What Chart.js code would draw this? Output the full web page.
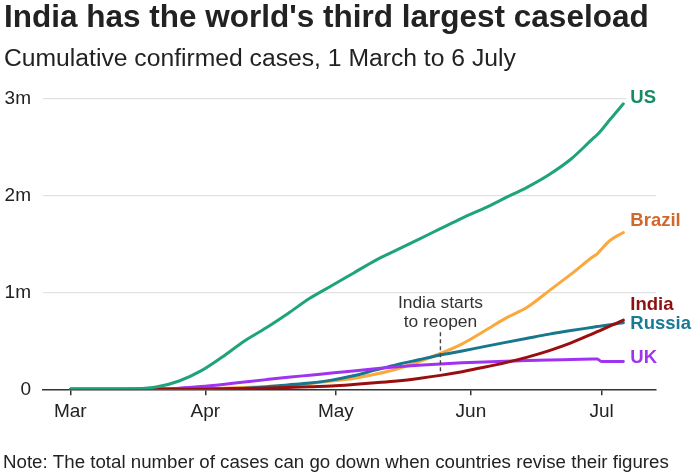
<!DOCTYPE html>
<html>
<head>
<meta charset="utf-8">
<script src="https://cdn.jsdelivr.net/npm/chart.js@4.4.1/dist/chart.umd.min.js"></script>
<style>
  html, body { margin: 0; padding: 0; background: #fff; }
  #wrap { width: 700px; height: 472px; }
</style>
</head>
<body>
<div id="wrap"><canvas id="chart" width="700" height="472"></canvas></div>
<script>
// days since 1 March, values in millions of cumulative cases
const days = [0, 10, 15, 20, 25, 30, 35, 40, 45, 50, 55, 60, 65, 70, 75, 80, 85, 90, 95, 100, 105, 110, 115, 120, 121, 122, 124, 127];

const usCases     = [0, 0.0013, 0.0047, 0.026, 0.086, 0.19, 0.337, 0.50, 0.636, 0.784, 0.94, 1.07, 1.20, 1.33, 1.44, 1.55, 1.66, 1.77, 1.87, 1.98, 2.09, 2.22, 2.38, 2.59, 2.63, 2.68, 2.79, 2.95];
const brazilCases = [0, 0, 0.0002, 0.0011, 0.0029, 0.0058, 0.011, 0.019, 0.028, 0.041, 0.059, 0.085, 0.112, 0.155, 0.21, 0.285, 0.37, 0.47, 0.60, 0.735, 0.85, 1.02, 1.19, 1.37, 1.40, 1.45, 1.54, 1.62];
const indiaCases  = [0, 0, 0.0001, 0.0003, 0.0007, 0.0014, 0.0043, 0.0076, 0.0124, 0.018, 0.0265, 0.034, 0.049, 0.067, 0.086, 0.112, 0.144, 0.182, 0.227, 0.276, 0.333, 0.40, 0.48, 0.575, 0.595, 0.615, 0.655, 0.715];
const russiaCases = [0, 0, 0.0001, 0.0003, 0.0008, 0.0023, 0.0058, 0.0118, 0.025, 0.045, 0.065, 0.095, 0.14, 0.198, 0.255, 0.305, 0.355, 0.396, 0.441, 0.485, 0.528, 0.570, 0.607, 0.641, 0.648, 0.655, 0.668, 0.688];
const ukCases     = [0, 0.0003, 0.0015, 0.005, 0.012, 0.028, 0.05, 0.075, 0.10, 0.124, 0.146, 0.168, 0.19, 0.212, 0.232, 0.248, 0.262, 0.274, 0.283, 0.29, 0.297, 0.303, 0.308, 0.313, 0.314, 0.286, 0.286, 0.287];

const monthDays = [0, 31, 61, 92, 122];
const monthLabels = ["Mar", "Apr", "May", "Jun", "Jul"];
const yTicks = [0, 1, 2, 3];
const yTickLabels = ["0", "1m", "2m", "3m"];

const reopenDay = 85;
const reopenTop = 0.59;
const reopenText = ["India starts", "to reopen"];

const FONT = "'Liberation Sans', Arial, Helvetica, sans-serif";

const toPoints = (vals) => days.map((d, i) => ({ x: d, y: vals[i] }));

const series = [
  { label: "US", data: usCases, color: "#1fa37c", text: "#178b66", dy: -6 },
  { label: "India", data: indiaCases, color: "#990f0f", text: "#8e1111", dy: -15 },
  { label: "UK", data: ukCases, color: "#a033f0", text: "#a033f0", dy: -4 },
  { label: "Russia", data: russiaCases, color: "#17778f", text: "#187a94", dy: 1 },
  { label: "Brazil", data: brazilCases, color: "#fba83c", text: "#d2672b", dy: -12 }
];

/* === TEXT: title, subtitle, note */
const headerPlugin = {
  id: "header",
  beforeDraw(chart) {
    const ctx = chart.ctx;
    ctx.save();
    ctx.fillStyle = "#fff";
    ctx.fillRect(0, 0, chart.width, chart.height);
    ctx.textAlign = "left";
    ctx.textBaseline = "alphabetic";
    ctx.fillStyle = "#222";
    ctx.font = "bold 31.5px " + FONT;
    ctx.fillText("India has the world's third largest caseload", 4, 27);
    ctx.font = "24.7px " + FONT;
    ctx.fillText("Cumulative confirmed cases, 1 March to 6 July", 4, 66);
    ctx.font = "18.7px " + FONT;
    ctx.fillText("Note: The total number of cases can go down when countries revise their figures", 3, 468);
    ctx.restore();
  }
};

/* === annotation + end labels */
const overlayPlugin = {
  id: "overlay",
  afterDatasetsDraw(chart) {
    const ctx = chart.ctx;
    const xs = chart.scales.x;
    const ys = chart.scales.y;
    ctx.save();

    // dashed marker
    const idx = days.indexOf(reopenDay);
    const px = xs.getPixelForValue(reopenDay);
    const yTop = ys.getPixelForValue(reopenTop);
    const yBot = ys.getPixelForValue(indiaCases[idx]);
    ctx.strokeStyle = "#444";
    ctx.lineWidth = 1.4;
    ctx.setLineDash([4, 3]);
    ctx.beginPath();
    ctx.moveTo(px, yTop);
    ctx.lineTo(px, yBot);
    ctx.stroke();
    ctx.setLineDash([]);

    ctx.fillStyle = "#333";
    ctx.font = "17.4px " + FONT;
    ctx.textAlign = "center";
    ctx.textBaseline = "middle";
    ctx.fillText(reopenText[0], px, yTop - 29);
    ctx.fillText(reopenText[1], px, yTop - 10);

    // series labels
    ctx.font = "bold 18.5px " + FONT;
    ctx.textAlign = "left";
    chart.data.datasets.forEach((ds) => {
      const last = ds.data[ds.data.length - 1];
      const x = xs.getPixelForValue(last.x) + 7;
      const y = ys.getPixelForValue(last.y) + ds.labelDy;
      const w = ctx.measureText(ds.label).width;
      ctx.fillStyle = "#fff";
      ctx.fillRect(x - 4, y - 11, w + 8, 22);
      ctx.fillStyle = ds.labelColor;
      ctx.fillText(ds.label, x, y);
    });
    ctx.restore();
  }
};

const ctx = document.getElementById("chart").getContext("2d");
new Chart(ctx, {
  type: "line",
  data: {
    datasets: series.map((s) => ({
      label: s.label,
      data: toPoints(s.data),
      borderColor: s.color,
      borderWidth: 3,
      labelColor: s.text,
      labelDy: s.dy
    }))
  },
  options: {
    responsive: false,
    animation: false,
    layout: { padding: { top: 99, left: 0, right: 44, bottom: 42.7 } },
    elements: {
      point: { radius: 0 },
      line: { cubicInterpolationMode: "monotone", borderCapStyle: "round", borderJoinStyle: "round" }
    },
    plugins: { legend: { display: false }, tooltip: { enabled: false } },
    scales: {
      x: {
        type: "linear",
        min: -6.33,
        max: 134.5,
        afterBuildTicks: (scale) => { scale.ticks = monthDays.map((v) => ({ value: v })); },
        afterFit: (scale) => { scale.height = 40; },
        ticks: {
          callback: (v, i) => monthLabels[i],
          font: { family: FONT, size: 19 },
          color: "#222",
          padding: 5,
          maxRotation: 0
        },
        grid: { drawOnChartArea: false, drawTicks: true, tickLength: 6, color: "#333", lineWidth: 1.5 },
        border: { display: true, color: "#333", width: 1.5 }
      },
      y: {
        min: 0,
        max: 3,
        afterBuildTicks: (scale) => { scale.ticks = yTicks.map((v) => ({ value: v })); },
        afterFit: (scale) => { scale.width = 42.7; },
        ticks: {
          callback: (v, i) => yTickLabels[i],
          font: { family: FONT, size: 19 },
          color: "#222",
          padding: 11.7
        },
        grid: {
          drawTicks: false,
          color: (c) => (c.tick && c.tick.value === 0 ? "rgba(0,0,0,0)" : "#e2e2e2"),
          lineWidth: 1.3
        },
        border: { display: false }
      }
    }
  },
  plugins: [headerPlugin, overlayPlugin]
});
</script>
</body>
</html>
